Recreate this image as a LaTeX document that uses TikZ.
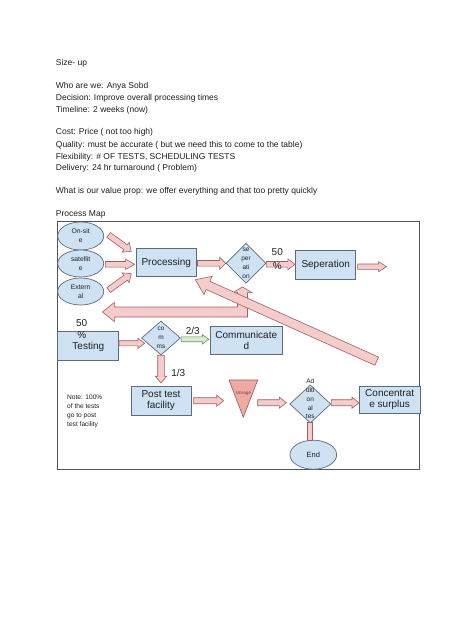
\documentclass[tikz,border=0pt]{standalone}
\usepackage{fontspec}
\setmainfont{Liberation Sans}
\usetikzlibrary{calc,shapes.geometric}
\definecolor{boxfill}{HTML}{CFE2F3}
\definecolor{boxline}{HTML}{5F6B78}
\definecolor{arrfill}{HTML}{F4CCCC}
\definecolor{arrline}{HTML}{A0605E}
\definecolor{grfill}{HTML}{D9EAD3}
\definecolor{grline}{HTML}{6A8F5A}
\definecolor{storfill}{HTML}{EDA9A4}
\definecolor{storline}{HTML}{A35450}
\definecolor{txt}{HTML}{1F1F1F}
\definecolor{framec}{HTML}{555555}

\newcommand\blockarrow[6][]{%
 \coordinate (baA) at (#2); \coordinate (baB) at (#3);
 \coordinate (baH) at ($(baB)!#6!(baA)$);
 \draw[arrowbody,#1] ($(baA)!#4!90:(baB)$) -- ($(baH)!#4!90:(baB)$) -- ($(baH)!#5!90:(baB)$) -- (baB) -- ($(baH)!#5!-90:(baB)$) -- ($(baH)!#4!-90:(baB)$) -- ($(baA)!#4!-90:(baB)$) -- cycle;}

\begin{document}
\begin{tikzpicture}[x=1pt,y=-1pt,
  bodytext/.style={anchor=base west, inner sep=0, text=txt, font=\fontsize{8.5}{10}\selectfont},
  procbox/.style={draw=boxline, fill=boxfill, line width=0.7pt, inner sep=0, align=center, text=txt, font=\fontsize{10}{11.5}\selectfont},
  srcell/.style={ellipse, draw=boxline, fill=boxfill, line width=0.7pt, inner sep=0, align=center, text=txt, font=\fontsize{6.8}{9}\selectfont},
  decision/.style={diamond, draw=boxline, fill=boxfill, line width=0.7pt, inner sep=0},
  dectext/.style={inner sep=0, align=center, text=txt, font=\fontsize{6.5}{8.8}\selectfont},
  lbl/.style={inner sep=0, text=txt, font=\fontsize{10}{11}\selectfont},
  arrowbody/.style={draw=arrline, fill=arrfill, line width=0.6pt, line join=miter},
  greenbody/.style={draw=grline, fill=grfill},
  frame/.style={draw=framec, line width=0.9pt}
]
\useasboundingbox (0,0) rectangle (474,632);
\fill[white] (0,0) rectangle (474,632);

% header text
\node[bodytext] (t1) at (55.7,65.7) {Size- up};
\node[bodytext] (t2) at (55.7,88) {Who are we: Anya Sobd};
\node[bodytext] (t3) at (55.7,100.3) {Decision: Improve overall processing times};
\node[bodytext] (t4) at (55.7,112.3) {Timeline: 2 weeks (now)};
\node[bodytext] (t5) at (55.7,134.7) {Cost: Price ( not too high)};
\node[bodytext] (t6) at (55.7,147) {Quality: must be accurate ( but we need this to come to the table)};
\node[bodytext] (t7) at (55.7,159) {Flexibility: \# OF TESTS, SCHEDULING TESTS};
\node[bodytext] (t8) at (55.7,170.7) {Delivery: 24 hr turnaround ( Problem)};
\node[bodytext] (t9) at (55.7,193) {What is our value prop: we offer everything and that too pretty quickly};
\node[bodytext] (t10) at (55.7,216.3) {Process Map};

% frame
\draw[frame] (57,221) rectangle (419,469);

% sources
\node[srcell, minimum width=46, minimum height=28] (onsite) at (80.7,236) {On-sit\\e};
\node[srcell, minimum width=46, minimum height=27] (sat) at (80.7,263.5) {satellit\\e};
\node[srcell, minimum width=46, minimum height=27] (ext) at (80.7,291.5) {Extern\\al};

% boxes
\node[procbox, minimum width=60.7, minimum height=28.4] (proc) at (166.3,262.5) {Processing};
\node[decision, minimum width=40, minimum height=40] (sep) at (246,263.3) {};
\node[dectext] (septext) at (sep.center) {se\\per\\ati\\on};
\node[procbox, minimum width=60, minimum height=29] (sepbox) at (325.7,264.5) {Seperation};

\node[procbox, minimum width=61, minimum height=28.3] (testing) at (87.8,345.8) {};
\node[decision, minimum width=39, minimum height=34] (comms) at (161,338) {};
\node[dectext] (commstext) at (comms.center) {co\\m\\ms};
\node[procbox, minimum width=72.7, minimum height=28.3] (comm) at (246.3,340.2) {Communicate\\d};

\node[procbox, minimum width=60, minimum height=28.3] (post) at (161,400.8) {Post test\\facility};
\draw[draw=storline, fill=storfill, line width=0.6pt] (229,380) -- (257.7,380) -- (243.3,417.3) -- cycle;
\node[inner sep=0, text=storline!80!black, font=\fontsize{4.6}{5}\selectfont] (stor) at (243.3,393) {storage};
\node[decision, minimum width=41, minimum height=38] (add) at (310.3,404) {};
\node[procbox, minimum width=60.7, minimum height=27.3] (conc) at (389.7,399.7) {Concentrat\\e surplus};
\node[srcell, minimum width=46.7, minimum height=29, font=\fontsize{7.5}{9}\selectfont] (end) at (313.3,454.7) {End};

\node[inner sep=0, align=left, text=txt, font=\fontsize{6.6}{8.9}\selectfont, anchor=north west] (note) at (67,394.5) {Note: 100\%\\of the tests\\go to post\\test facility};

% arrows
\blockarrow{$(onsite.east)+(4.6,-1)$}{$(proc.north west)+(-4.3,3.4)$}{3pt}{6pt}{7pt}
\blockarrow{$(sat.east)+(1.3,0.8)$}{$(proc.west)+(-1,1.8)$}{2.8pt}{5.2pt}{9pt}
\blockarrow{$(ext.east)+(4.6,-1.5)$}{$(proc.south west)+(-4.3,-3.4)$}{3pt}{6pt}{7pt}
\blockarrow{$(proc.east)+(0.5,0.8)$}{sep.west}{2.8pt}{6pt}{6pt}
\blockarrow{$(sep.east)+(0,1)$}{$(sepbox.west)+(-0.5,-0.2)$}{2.8pt}{5.5pt}{7pt}
\blockarrow{$(sepbox.east)+(1.6,2.2)$}{$(sepbox.east)+(30.3,2.2)$}{2.7pt}{5pt}{7.7pt}
\blockarrow{$(testing.east)+(0.3,-2.5)$}{$(comms.west)+(3.5,5.3)$}{2.6pt}{5pt}{6.7pt}
\blockarrow[greenbody]{$(comms.east)+(0.2,1.3)$}{$(comm.west)+(-0.7,-0.9)$}{2.4pt}{4.7pt}{6.7pt}
\blockarrow{comms.south}{$(post.north)+(0,-3.4)$}{3.3pt}{5.8pt}{6.7pt}
\blockarrow{$(post.east)+(2.3,-0.1)$}{$(post.east)+(32.3,-0.1)$}{3pt}{5.5pt}{7pt}
\blockarrow{$(stor)+(14.4,9.7)$}{$(add.west)+(-3.1,-1.3)$}{3pt}{5.5pt}{7pt}
\blockarrow{$(add.east)+(0.2,-1.3)$}{$(conc.west)+(0,3)$}{3pt}{5.5pt}{7pt}

% up-left return arrow
\coordinate (upl) at (102.3,312);
\coordinate (upt) at ($(sep.south)+(-3.5,3.3)$);
\draw[arrowbody] (upl) -- (114.3,302.5) -- (114.3,307) -- (237.5,307) -- (237.5,292.7) -- (233,292.7) -- (upt) -- (252,292.7) -- (247.5,292.7) -- (247.5,317) -- (114.3,317) -- (114.3,321.5) -- cycle;

% add -> end connector
\draw[arrowbody] ($(add.south)+(-2.7,-1.5)$) rectangle ($(end.north)+(-0.6,0)$);
\node[dectext] (addtext) at (310.3,399) {Ad\\diti\\on\\al\\tes};

% long diagonal return
\blockarrow{$(conc.north)+(-13,-24.5)$}{$(proc.south east)+(-1.7,2.6)$}{4.5pt}{10pt}{14pt}

% labels (on top of arrows)
\node[lbl] (testtext) at (88.3,346.5) {Testing};
\node[lbl] (l50a) at (277.3,252.3) {50};
\node[lbl] (l50b) at (277.3,265.7) {\%};
\node[lbl] (l50c) at (81.7,323.3) {50};
\node[lbl] (l50d) at (81.7,335.5) {\%};
\node[lbl] (l23) at (192.7,330.7) {2/3};
\node[lbl] (l13) at (178.3,372.7) {1/3};
\end{tikzpicture}
\end{document}
